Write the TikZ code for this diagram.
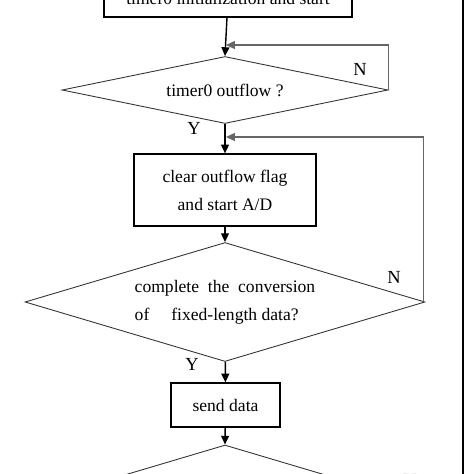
\documentclass[tikz,border=0pt]{standalone}
\usepackage{fontspec}
\setmainfont{Liberation Serif}
\usetikzlibrary{shapes.geometric,arrows.meta}
\begin{document}
\begin{tikzpicture}[x=0.02cm,y=-0.02cm,
	box/.style={draw,line width=0.7pt,inner sep=0pt,align=center,font=\fontsize{10}{16}\selectfont},
	test/.style={draw=black!80,diamond,line width=0.5pt,inner sep=0pt,font=\fontsize{10}{16}\selectfont},
	arr/.style={line width=0.8pt,-{Triangle[length=5pt,width=4.5pt]}},
	back/.style={draw=black!60,line width=0.6pt,-{Triangle[length=5pt,width=4.5pt]}},
	yn/.style={font=\fontsize{10.5}{12}\selectfont}]
	\useasboundingbox (0,0) rectangle (474,474);
	\clip (0,0) rectangle (474,474);
	% flow boxes and tests
	\node[box,minimum width=4.96cm,minimum height=0.76cm] (init) at (228,-2) {timer0 initialization and start};
	\node[test,shape aspect=4.87,minimum width=6.52cm,minimum height=1.34cm] (tov) at (225,90) {timer0 outflow ?};
	\node[box,minimum width=3.64cm,minimum height=1.44cm] (clr) at (225,190) {clear outflow flag\\and start A/D};
	\node[test,shape aspect=3.36,minimum width=8cm,minimum height=2.38cm,align=left] (conv) at (225,302) {complete\ \ the\ \ conversion\\of\quad\ fixed-length data?};
	\node[box,minimum width=2.18cm,minimum height=0.88cm] (send) at (225.5,405) {send data};
	\node[test,shape aspect=3.36,minimum width=8cm,minimum height=2.38cm] (next) at (225,504.5) {};
	% joins of the loops
	\coordinate (j1) at (226,45);
	\coordinate (j2) at (226,137);
	\coordinate (r1) at (463,530);
	\coordinate (r2) at (463,-40);
	% connectors
	\draw[arr] (init) -- (tov.north);
	\draw[arr] (tov) -- (clr);
	\draw[arr] (clr) -- (conv.north);
	\draw[arr] (conv) -- (send);
	\draw[arr] (send) -- (next.north);
	\draw[back] (tov.east) |- (j1);
	\draw[back] (conv.east) ++(-2,0) |- (j2);
	\draw[line width=1.1pt] (r1) -- (r2);
	% labels
	\node[yn] (n1) at (360,69) {N};
	\node[yn] (y1) at (194,128) {Y};
	\node[yn] (n2) at (394,277) {N};
	\node[yn] (y2) at (192,364) {Y};
	\node[yn] (y3) at (410,480) {Y};
\end{tikzpicture}
\end{document}
